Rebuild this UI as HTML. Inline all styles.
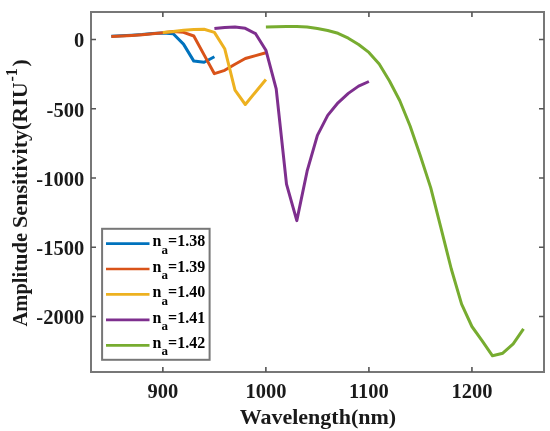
<!DOCTYPE html>
<html><head><meta charset="utf-8"><style>html,body{margin:0;padding:0;background:#fff;}svg{display:block;}</style></head><body>
<svg width="550" height="431" viewBox="0 0 550 431">
<rect width="550" height="431" fill="#fff"/>
<g fill="none" stroke-width="3.0" stroke-linejoin="round" stroke-linecap="butt">
<polyline points="111.3,36.3 121.6,35.8 131.9,35.2 142.2,34.6 152.5,33.5 162.8,33.0 173.2,33.8 183.5,44.1 193.8,61.1 204.1,62.3 214.4,56.8" stroke="#0072BD"/>
<polyline points="111.3,36.5 121.6,36.0 131.9,35.4 142.2,34.7 152.5,33.8 162.8,32.7 173.2,31.6 183.5,32.3 193.8,36.0 204.1,54.9 214.4,73.7 224.7,70.3 235.0,64.2 245.3,58.5 255.6,55.6 265.9,52.7" stroke="#D95319"/>
<polyline points="162.8,32.4 173.2,31.6 183.5,30.2 193.8,29.4 204.1,29.3 214.4,32.4 224.7,48.7 235.0,90.2 245.3,104.5 255.6,92.0 265.9,79.5" stroke="#EDB120"/>
<polyline points="214.4,28.6 224.7,27.4 235.0,27.1 245.3,28.3 255.6,33.7 265.9,50.2 276.2,88.8 286.5,184.2 296.8,220.6 307.1,171.2 317.4,135.4 327.7,115.4 338.0,102.8 348.3,93.4 358.6,86.1 368.9,81.5" stroke="#7E2F8E"/>
<polyline points="265.9,27.0 276.2,26.7 286.5,26.4 296.8,26.6 307.1,27.0 317.4,28.5 327.7,30.5 338.0,33.3 348.3,38.2 358.6,44.5 368.9,52.4 379.2,64.0 389.5,81.0 399.8,100.7 410.1,126.0 420.4,156.0 430.7,187.6 441.0,228.2 451.3,269.0 461.6,304.1 471.9,326.5 482.2,340.8 492.5,355.8 502.8,353.2 513.2,343.8 523.5,328.8" stroke="#77AC30"/>
</g>
<rect x="91" y="12" width="453" height="360" fill="none" stroke="#777" stroke-width="2"/>
<path d="M162.85 372V367M162.85 12V17M265.88 372V367M265.88 12V17M368.91 372V367M368.91 12V17M471.94 372V367M471.94 12V17M91 39.5H96M544 39.5H539M91 108.75H96M544 108.75H539M91 178H96M544 178H539M91 247.25H96M544 247.25H539M91 316.5H96M544 316.5H539" stroke="#555" stroke-width="1.6" fill="none"/>
<g font-family="Liberation Serif, Times New Roman, serif" font-weight="bold" fill="#1a1a1a">
<text x="162.8" y="398.2" font-size="20.5" text-anchor="middle">900</text>
<text x="265.9" y="398.2" font-size="20.5" text-anchor="middle">1000</text>
<text x="368.9" y="398.2" font-size="20.5" text-anchor="middle">1100</text>
<text x="471.9" y="398.2" font-size="20.5" text-anchor="middle">1200</text>
<text x="84.2" y="47.4" font-size="20.5" text-anchor="end">0</text>
<text x="84.2" y="116.7" font-size="20.5" text-anchor="end">-500</text>
<text x="84.2" y="185.9" font-size="20.5" text-anchor="end">-1000</text>
<text x="84.2" y="255.2" font-size="20.5" text-anchor="end">-1500</text>
<text x="84.2" y="324.4" font-size="20.5" text-anchor="end">-2000</text>
<text x="317.9" y="424.2" font-size="22" text-anchor="middle">Wavelength(nm)</text>
<g transform="translate(26.8 0) rotate(-90)" font-size="21.5">
<text x="-326.5" y="0" textLength="93.5" lengthAdjust="spacingAndGlyphs">Amplitude</text>
<text x="-227.9" y="0" textLength="145.6" lengthAdjust="spacingAndGlyphs">Sensitivity(RIU</text>
<text x="-81.6" y="-9.7" font-size="16">-1</text>
<text x="-66.6" y="0">)</text>
</g>
</g>
<rect x="102.1" y="228.8" width="107.5" height="131.0" fill="#fff" stroke="#777" stroke-width="2"/>
<line x1="106" y1="243.6" x2="149.5" y2="243.6" stroke="#0072BD" stroke-width="2.7"/>
<text x="152.6" y="246.2" font-family="Liberation Serif, serif" font-weight="bold" font-size="16" fill="#000">n<tspan font-size="13" dy="7.5">a</tspan><tspan dy="-7.5">=</tspan>1.38</text>
<line x1="106" y1="269.02" x2="149.5" y2="269.02" stroke="#D95319" stroke-width="2.7"/>
<text x="152.6" y="271.6" font-family="Liberation Serif, serif" font-weight="bold" font-size="16" fill="#000">n<tspan font-size="13" dy="7.5">a</tspan><tspan dy="-7.5">=</tspan>1.39</text>
<line x1="106" y1="294.44" x2="149.5" y2="294.44" stroke="#EDB120" stroke-width="2.7"/>
<text x="152.6" y="297.0" font-family="Liberation Serif, serif" font-weight="bold" font-size="16" fill="#000">n<tspan font-size="13" dy="7.5">a</tspan><tspan dy="-7.5">=</tspan>1.40</text>
<line x1="106" y1="319.86" x2="149.5" y2="319.86" stroke="#7E2F8E" stroke-width="2.7"/>
<text x="152.6" y="322.5" font-family="Liberation Serif, serif" font-weight="bold" font-size="16" fill="#000">n<tspan font-size="13" dy="7.5">a</tspan><tspan dy="-7.5">=</tspan>1.41</text>
<line x1="106" y1="345.28" x2="149.5" y2="345.28" stroke="#77AC30" stroke-width="2.7"/>
<text x="152.6" y="347.9" font-family="Liberation Serif, serif" font-weight="bold" font-size="16" fill="#000">n<tspan font-size="13" dy="7.5">a</tspan><tspan dy="-7.5">=</tspan>1.42</text>
</svg>
</body></html>
